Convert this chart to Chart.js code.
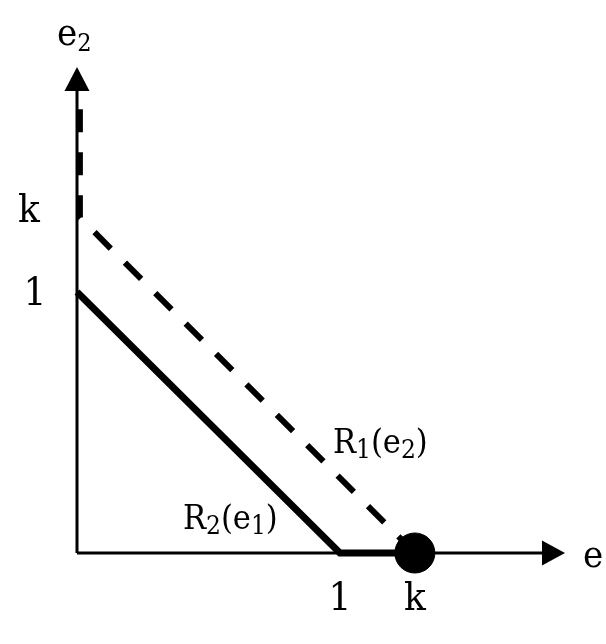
<!DOCTYPE html>
<html>
<head>
<meta charset="utf-8">
<script src="https://cdn.jsdelivr.net/npm/chart.js@4"></script>
<style>
  html, body { margin: 0; padding: 0; background: #fff; }
  #wrap { width: 606px; height: 644px; }
</style>
</head>
<body>
<div id="wrap"><canvas id="chartCanvas"></canvas></div>
<script>
const K = 1.285;
const axisMax = [1.856, 1.862];          // x, y
const solidX = [0, 1, K];
const solidY = [1, 0, 0];
const dashX = [0.011, 0.011, K];
const dashY = [1.70, K, 0];
const dotX = [K];
const dotY = [0];
const xTicks = [1, K];
const xTickLabels = ['1', 'k'];
const yTicks = [1, K];
const yTickLabels = ['1', 'k'];

const FONT = "'DejaVu Serif', serif";

function toPoints(xs, ys) {
  return xs.map((x, i) => ({ x: x, y: ys[i] }));
}

function setFont(ctx, size) {
  ctx.font = size + 'px ' + FONT;
  if ('fontStretch' in ctx) ctx.fontStretch = 'condensed';
}

// text with subscripts: parts = [[text, isSub], ...]
function drawRich(ctx, x, y, parts, size, subSize, subShift) {
  ctx.textAlign = 'left';
  ctx.textBaseline = 'alphabetic';
  let cx = x;
  parts.forEach(([txt, sub]) => {
    setFont(ctx, sub ? subSize : size);
    ctx.fillText(txt, cx, sub ? y + subShift : y);
    cx += ctx.measureText(txt).width;
  });
}

const axesPlugin = {
  id: 'axes',
  beforeDatasetsDraw(chart) {
    const { ctx } = chart;
    const xs = chart.scales.x, ys = chart.scales.y;
    const ox = xs.getPixelForValue(0), oy = ys.getPixelForValue(0);
    const tx = xs.getPixelForValue(axisMax[0]);
    const ty = ys.getPixelForValue(axisMax[1]);
    ctx.save();
    ctx.strokeStyle = '#000';
    ctx.fillStyle = '#000';
    ctx.lineWidth = 3;
    ctx.beginPath();
    ctx.moveTo(ox, oy);
    ctx.lineTo(tx - 20, oy);
    ctx.moveTo(ox, oy);
    ctx.lineTo(ox, ty + 20);
    ctx.stroke();
    // arrow heads
    ctx.beginPath();
    ctx.moveTo(tx, oy);
    ctx.lineTo(tx - 23, oy - 12.5);
    ctx.lineTo(tx - 23, oy + 12.5);
    ctx.closePath();
    ctx.fill();
    ctx.beginPath();
    ctx.moveTo(ox, ty);
    ctx.lineTo(ox - 12.5, ty + 24);
    ctx.lineTo(ox + 12.5, ty + 24);
    ctx.closePath();
    ctx.fill();
    ctx.restore();
  },
  afterDatasetsDraw(chart) {
    const { ctx } = chart;
    const xs = chart.scales.x, ys = chart.scales.y;
    const ox = xs.getPixelForValue(0), oy = ys.getPixelForValue(0);
    ctx.save();
    ctx.fillStyle = '#000';
    setFont(ctx, 40);
    ctx.textBaseline = 'alphabetic';
    ctx.textAlign = 'center';
    xTicks.forEach((v, i) => {
      ctx.fillText(xTickLabels[i], xs.getPixelForValue(v), oy + 57);
    });
    yTicks.forEach((v, i) => {
      const py = ys.getPixelForValue(v);
      const lab = yTickLabels[i];
      ctx.fillText(lab, ox - (lab === 'k' ? 48 : 42), py + (lab === 'k' ? 4 : 13));
    });
    // axis names
    drawRich(ctx, ox - 20, 45, [['e', false], ['2', true]], 38, 25, 6);
    drawRich(ctx, xs.getPixelForValue(axisMax[0]) + 18, oy + 14, [['e', false], ['1', true]], 38, 25, 6);
    // curve labels
    drawRich(ctx, 333, 453, [['R', false], ['1', true], ['(e', false], ['2', true], [')', false]], 34, 26, 5);
    drawRich(ctx, 183, 529, [['R', false], ['2', true], ['(e', false], ['1', true], [')', false]], 34, 26, 5);
    ctx.restore();
  }
};

function drawChart() {
  const ctx = document.getElementById('chartCanvas').getContext('2d');
  new Chart(ctx, {
    type: 'scatter',
    data: {
      datasets: [
        {
          label: 'R1(e2)',
          data: toPoints(dashX, dashY),
          showLine: true,
          clip: false,
          borderColor: '#000',
          borderWidth: 6,
          borderDash: [23, 20],
          borderCapStyle: 'butt',
          pointRadius: 0,
          tension: 0
        },
        {
          label: 'R2(e1)',
          data: toPoints(solidX, solidY),
          showLine: true,
          clip: false,
          borderColor: '#000',
          borderWidth: 7,
          pointRadius: 0,
          tension: 0
        },
        {
          label: 'k',
          data: toPoints(dotX, dotY),
          clip: false,
          backgroundColor: '#000',
          borderColor: '#000',
          pointRadius: 20,
          pointHoverRadius: 20
        }
      ]
    },
    options: {
      responsive: true,
      maintainAspectRatio: false,
      animation: false,
      layout: { padding: { left: 77, right: 41, top: 67, bottom: 91 } },
      plugins: { legend: { display: false }, tooltip: { enabled: false } },
      scales: {
        x: { type: 'linear', min: 0, max: axisMax[0], display: false },
        y: { type: 'linear', min: 0, max: axisMax[1], display: false }
      }
    },
    plugins: [axesPlugin]
  });
}

document.addEventListener('DOMContentLoaded', drawChart);
</script>
</body>
</html>
